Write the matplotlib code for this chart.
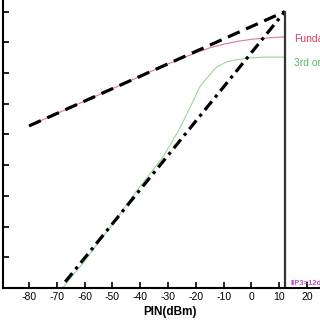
import numpy as np
import matplotlib
matplotlib.use("Agg")
import matplotlib.pyplot as plt

plt.rcParams['font.family'] = ['Liberation Sans', 'DejaVu Sans']
plt.rcParams['axes.unicode_minus'] = False

# extrapolated lines (Pin, Pout)
fund_line_x = [-80, 12]
fund_line_y = [-68, 25]
im3_line_x = [-67, 12]
im3_line_y = [-195, 25]

# simulated curves
fund_x = [-80, -40, -30, -20, -15, -10, -5, 0, 5, 12]
fund_y = [-68, -27.6, -17.5, -8.5, -4.5, -1.5, 0.8, 2.5, 3.5, 4.5]
im3_x = [-68, -60, -50, -43, -40, -32, -26, -21, -18.5, -16, -12.5, -9, -5, 0, 5, 12]
im3_y = [-200, -178, -148, -126, -117, -94, -71, -48, -36, -29, -20, -16, -14, -12.5, -12, -12]

xticks = [-80, -70, -60, -50, -40, -30, -20, -10, 0, 10, 20]
yticks = [-200, -175, -150, -125, -100, -75, -50, -25, 0, 25]
iip3 = 12

fig = plt.figure(figsize=(3.2, 3.2), dpi=100)
ax = fig.add_axes([3/320, 32/320, 317/320, 288/320])

ax.plot(fund_x, fund_y, color="#e07a8a", lw=0.8)
ax.plot(im3_x, im3_y, color="#9ed49e", lw=0.8)
ax.plot(fund_line_x, fund_line_y, color="black", lw=2.3, ls=(0, (4, 2.2)))
ax.plot(im3_line_x, im3_line_y, color="black", lw=2.3, ls=(0, (3.5, 1.6, 1, 1.6)))
ax.plot([iip3, iip3], [-200, 25], color="#333333", lw=1.6)

ax.set_xlim(-89.4, 24.7)
ax.set_ylim(-200, 34.5)
ax.set_xticks(xticks)
ax.set_yticks(yticks)
ax.set_yticklabels([])
ax.tick_params(axis="both", direction="in", length=4.5, width=1.2, labelsize=7.5)
ax.tick_params(axis="x", pad=3)
for s in ["top", "right"]:
    ax.spines[s].set_visible(False)
for s in ["left", "bottom"]:
    ax.spines[s].set_linewidth(1.5)

ax.text(15.5, 3, "Fundamental", color="#d63a5e", fontsize=7.5, va="center", clip_on=False)
ax.text(15.5, -17, "3rd order", color="#5cb85c", fontsize=7.5, va="center", clip_on=False)
ax.text(14.2, -196, "IIP3=12dBm", color="#c050c0", fontsize=5.5, va="center", fontweight="bold", clip_on=False)

fig.text(170/320, 1 - 312/320, "PIN(dBm)", ha="center", va="center", fontsize=8.5, fontweight="bold")

fig.savefig("out.png", dpi=100)
